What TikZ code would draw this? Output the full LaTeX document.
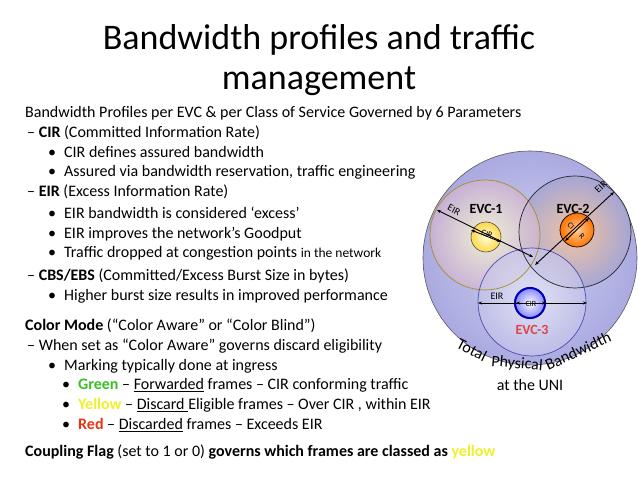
\documentclass[tikz,border=0pt]{standalone}
\usepackage{fontspec}
\setmainfont{Carlito}
\usetikzlibrary{arrows.meta}
\definecolor{bigc}{RGB}{170,170,225}
\definecolor{gr}{RGB}{60,190,40}
\definecolor{yl}{RGB}{240,240,40}
\definecolor{rd}{RGB}{235,50,20}
\definecolor{evcred}{RGB}{220,70,70}
\tikzset{
 t/.style={anchor=base west,inner sep=0pt,font=\fontsize{16}{18}\selectfont},
 arr/.style={{Stealth[length=4pt]}-{Stealth[length=4pt]},line width=0.9pt},
 lab/.style={font=\fontsize{10}{11}\selectfont,inner sep=0pt},
 evc/.style={font=\bfseries\fontsize{14}{16}\selectfont,inner sep=0pt},
 arcw/.style={font=\fontsize{16}{18}\selectfont,inner sep=0pt}
}
\begin{document}
\begin{tikzpicture}[x=1pt,y=-1pt]
\useasboundingbox (0,0) rectangle (638,478);
\node[font=\fontsize{36}{40}\selectfont,align=center] (title) at (319,60) {Bandwidth profiles and traffic\\management};
% text
\node[t] (l1) at (25,118) {Bandwidth Profiles per EVC \& per Class of Service Governed by 6 Parameters};
\node[t] (l2) at (27,138) {– \textbf{CIR} (Committed Information Rate)};
\node[t] (l3) at (48,158) {•\hspace{8pt}CIR defines assured bandwidth};
\node[t] (l4) at (48,177) {•\hspace{8pt}Assured via bandwidth reservation, traffic engineering};
\node[t] (l5) at (27,197) {– \textbf{EIR} (Excess Information Rate)};
\node[t] (l6) at (48,219) {•\hspace{8pt}EIR bandwidth is considered ‘excess’};
\node[t] (l7) at (48,239) {•\hspace{8pt}EIR improves the network’s Goodput};
\node[t] (l8) at (48,258) {•\hspace{8pt}Traffic dropped at congestion points {\fontsize{13.5}{15}\selectfont in the network}};
\node[t] (l9) at (27,281) {– \textbf{CBS/EBS} (Committed/Excess Burst Size in bytes)};
\node[t] (l10) at (48,301) {•\hspace{8pt}Higher burst size results in improved performance};
\node[t] (l11) at (25,331) {\textbf{Color Mode} (“Color Aware” or “Color Blind”)};
\node[t] (l12) at (27,351) {– When set as “Color Aware” governs discard eligibility};
\node[t] (l13) at (48,371) {•\hspace{8pt}Marking typically done at ingress};
\node[t] (l14) at (62,390) {•\hspace{8pt}\textcolor{gr}{\textbf{Green}} – \underline{Forwarded} frames – CIR conforming traffic};
\node[t] (l15) at (62,410) {•\hspace{8pt}\textcolor{yl}{\textbf{Yellow}} – \underline{Discard }Eligible frames – Over CIR , within EIR};
\node[t] (l16) at (62,430) {•\hspace{8pt}\textcolor{rd}{\textbf{Red}} – \underline{Discarded} frames – Exceeds EIR};
\node[t] (l17) at (25,457) {\textbf{Coupling Flag} (set to 1 or 0) \textbf{governs which frames are classed as \textcolor{yl}{yellow}}};
% circles
\shade[inner color=bigc!55,outer color=bigc] (530,258) circle[radius=107];
\draw[gray!70!black,line width=0.6pt] (530,258) circle[radius=107];
\node[circle,minimum size=214pt] (big) at (530,258) {};
\shade[inner color=orange!45,outer color=bigc!85!gray,opacity=0.8] (575,232) circle[radius=56];
\shade[inner color=yellow!20,outer color=pink!45!bigc,opacity=0.75] (485,235) circle[radius=55];
\shade[inner color=white!80!bigc,outer color=bigc!70,opacity=0.7] (532,302) circle[radius=54];
\draw[olive!60!brown,line width=0.7pt] (485,235) circle[radius=55];
\draw[gray!30!black,line width=0.7pt] (575,232) circle[radius=56];
\draw[blue!40!gray,line width=0.7pt] (532,302) circle[radius=54];
\shade[inner color=yellow!15,outer color=yellow!55!orange!70] (486,237) circle[radius=15];
\draw[gray!60!black,line width=0.6pt] (486,237) circle[radius=15];
\shade[inner color=orange!40,outer color=orange!90!red] (577,230) circle[radius=17];
\draw[black,line width=0.7pt] (577,230) circle[radius=17];
\shade[inner color=white,outer color=blue!50] (530,303) circle[radius=16];
\draw[blue!70!black,line width=2pt] (530,303) circle[radius=15];
\node[circle,minimum size=30pt,inner sep=0pt] (c1) at (486,237) {};
\node[circle,minimum size=34pt,inner sep=0pt] (c2) at (577,230) {};
\node[circle,minimum size=32pt,inner sep=0pt] (c3) at (530,303) {};
% arrows
\coordinate (e1a) at (437,210); \coordinate (e1b) at (533,257);
\draw[arr] (e1a) -- (e1b);
\coordinate (ci1a) at (471,230); \coordinate (ci1b) at (501,242);
\draw[arr] (ci1a) -- (ci1b);
\coordinate (e2a) at (614,192); \coordinate (e2b) at (535,265);
\draw[arr] (e2a) -- (e2b);
\coordinate (ci2a) at (565,241); \coordinate (ci2b) at (589,218);
\draw[arr] (ci2a) -- (ci2b);
\coordinate (e3a) at (478,303); \coordinate (e3b) at (587,303);
\draw[arr] (e3a) -- (e3b);
\coordinate (ci3a) at (516,303); \coordinate (ci3b) at (546,303);
\draw[arr] (ci3a) -- (ci3b);
% labels
\node[lab,rotate=-27] (le1) at (454,210) {EIR};
\node[lab,rotate=-22,font=\fontsize{8.5}{9}\selectfont] (lc1) at (487,234) {CIR};
\node[lab,rotate=43] (le2) at (601,187) {EIR};
\node[lab,rotate=-45,font=\fontsize{8}{9}\selectfont] (lc2a) at (571,226) {CI};
\node[lab,rotate=-45,font=\fontsize{8}{9}\selectfont] (lc2b) at (582,236) {R};
\node[lab] (le3) at (497,296) {EIR};
\node[lab,font=\fontsize{8}{9}\selectfont] (lc3) at (531,304) {CIR};
\node[evc] (n1) at (486,209) {EVC-1};
\node[evc] (n2) at (573,209) {EVC-2};
\node[evc,text=evcred] (n3) at (532,330) {EVC-3};
\node[arcw,rotate=-27] (w1) at (472,350) {Total};
\node[arcw,rotate=-5] (w2) at (517,364) {Physical};
\node[arcw,rotate=25] (w3) at (578,351) {Bandwidth};
\node[font=\fontsize{16}{18}\selectfont] (uni) at (530,385) {at the UNI};
\end{tikzpicture}
\end{document}
